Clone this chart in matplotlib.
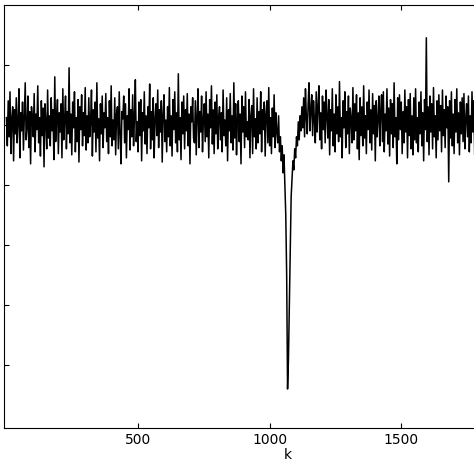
import matplotlib
matplotlib.use("Agg")
import matplotlib.pyplot as plt
import numpy as np

step = 3.4
# signal values in hundredths, read approximately (k = 0, 3.4, 6.8, ...)
vals = [
 12,-35,40,-20,55,-48,10,30,-60,25,-15,45,-30,5,60,-55,20,-10,38,-42,15,70,-25,-5,48,-38,22,-65,30,10,
 -20,52,-45,18,-8,65,-30,12,-52,40,-18,28,-70,35,5,-40,58,-22,15,-35,45,-10,25,-58,80,-28,10,42,-48,20,
 -12,35,-55,60,-25,8,48,-40,22,-15,95,-30,18,-50,38,-5,55,-45,12,-28,42,-62,30,-8,50,-35,20,-18,62,-42,
 15,-30,45,-20,5,58,-52,25,-12,38,-45,70,-22,10,-60,35,-15,48,-38,20,-5,52,-28,12,-48,40,-20,65,-35,8,
 -25,45,-50,18,30,-40,55,-15,-65,22,10,48,-30,35,-55,15,-8,60,-42,25,-20,50,-35,12,75,-28,5,-45,38,-18,
 42,-60,20,-10,55,-32,15,-48,30,-5,68,-40,22,-25,45,-55,10,35,-18,58,-38,25,-12,40,-62,18,50,-28,8,-45,
 30,-20,62,-35,15,-52,42,-8,55,-30,20,-45,85,-25,12,-58,38,-15,48,-40,25,-10,52,-35,18,-65,30,5,45,-22,
 -30,40,-50,15,60,-38,22,-12,48,-45,10,35,-28,55,-20,18,-55,42,-5,65,-32,25,-48,38,-15,50,-40,12,30,-25,
 20,-45,58,-18,8,-35,45,-60,25,-10,52,-30,15,-42,70,-22,35,-50,10,40,-28,18,-65,48,-12,30,-38,55,-20,5,
 -25,42,-55,15,32,-48,60,-20,10,-40,45,-30,22,-15,55,-45,25,-8,38,-52,18,40,-30,62,-35,12,-48,28,-20,50,
 -38,20,-12,-30,15,-45,-20,-60,-35,-80,-50,-100,-150,-250,-440,-390,-300,-200,-120,-90,-60,-75,-40,-55,-20,-35,5,-25,15,-10,
 30,-5,45,-20,60,12,-15,35,70,-10,25,50,-18,40,8,-30,55,-12,30,65,-25,20,-40,48,-8,38,-30,58,15,-22,
 42,-50,25,-10,60,-35,18,-45,50,-15,30,-28,72,-20,12,-55,40,-5,55,-38,22,-15,48,-48,28,10,-30,62,-25,35,
 -10,50,-40,20,-58,45,-18,30,-35,65,-22,15,-48,38,-8,58,-30,25,-42,52,-15,32,-60,40,-20,10,48,-35,22,50,
 -28,55,-45,18,-10,60,-32,28,-52,42,-15,35,-38,70,-20,12,-65,45,-25,50,-8,38,-48,22,-30,58,-12,30,-55,42,
 -18,52,-40,15,-50,45,-25,60,-30,12,-45,38,-15,55,-35,20,-60,42,-8,145,-28,30,-50,48,-12,35,-40,62,-20,15,
 -55,40,-25,50,-10,32,-45,58,-18,25,-38,48,-5,30,-95,40,-22,55,-35,18,-48,42,-12,60,-30,20,-50,38,-15,45,
 -28,52,-40,10,35,-20,48,-45,15,-30,55,-12,40,-50,22,-8,45,-35,30,-18,50,-42,12,38,
]
k = np.arange(len(vals)) * step
y = np.array(vals) / 100.0

fig = plt.figure(figsize=(4.74, 4.74), dpi=100)
ax = fig.add_axes([0.008, 0.097, 1.2, 0.893])
ax.plot(k, y, color="black", lw=1.1)
ax.set_xlim(-10, 2150)
ax.set_ylim(-5.05, 2.0)
ax.set_xticks([500, 1000, 1500])
ax.set_yticks([-4, -3, -2, -1, 0, 1])
ax.set_yticklabels([])
ax.tick_params(direction="in", top=True, right=True, labelsize=10)
ax.set_xlabel("k", fontsize=10, labelpad=1)
fig.savefig("out.png", dpi=100)
